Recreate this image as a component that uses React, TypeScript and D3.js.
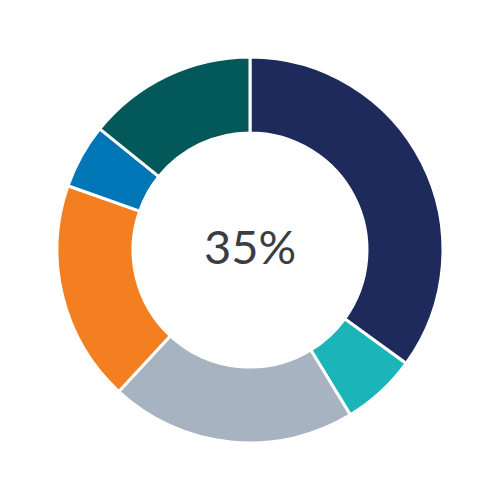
import * as d3 from 'd3';

// slice values, clockwise from 12 o'clock
const labels = ['Navy', 'Teal', 'Gray', 'Orange', 'Blue', 'Green'];
const values = [35, 6.3, 20.6, 18.5, 5.4, 14.2];
const colors = ['#1d2a5b', '#1bb4b8', '#a8b3c2', '#f37f20', '#0076b6', '#03585a'];
const centerLabel = '35%';

export default function App(): JSX.Element {
  const width = 500;
  const height = 500;
  const outer = 193;
  const inner = 117;

  const pie = d3.pie<number>().sort(null).value(d => d);
  const arc = d3.arc<d3.PieArcDatum<number>>()
    .innerRadius(inner)
    .outerRadius(outer);

  const arcs = pie(values);

  return (
    <svg
      width={width}
      height={height}
      style={{ position: 'absolute', left: 0, top: 0 }}
    >
      <rect width={width} height={height} fill="#ffffff" />
      <g transform={`translate(${width / 2},${height / 2})`}>
        {arcs.map((a, i) => (
          <path
            key={labels[i]}
            d={arc(a) || ''}
            fill={colors[i]}
            stroke="#ffffff"
            strokeWidth={3}
          />
        ))}
        <text
          y={2}
          textAnchor="middle"
          dominantBaseline="middle"
          style={{ fontFamily: 'Lato, sans-serif', fontSize: '47px', fill: '#3a3d44' }}
        >
          {centerLabel}
        </text>
      </g>
    </svg>
  );
}
